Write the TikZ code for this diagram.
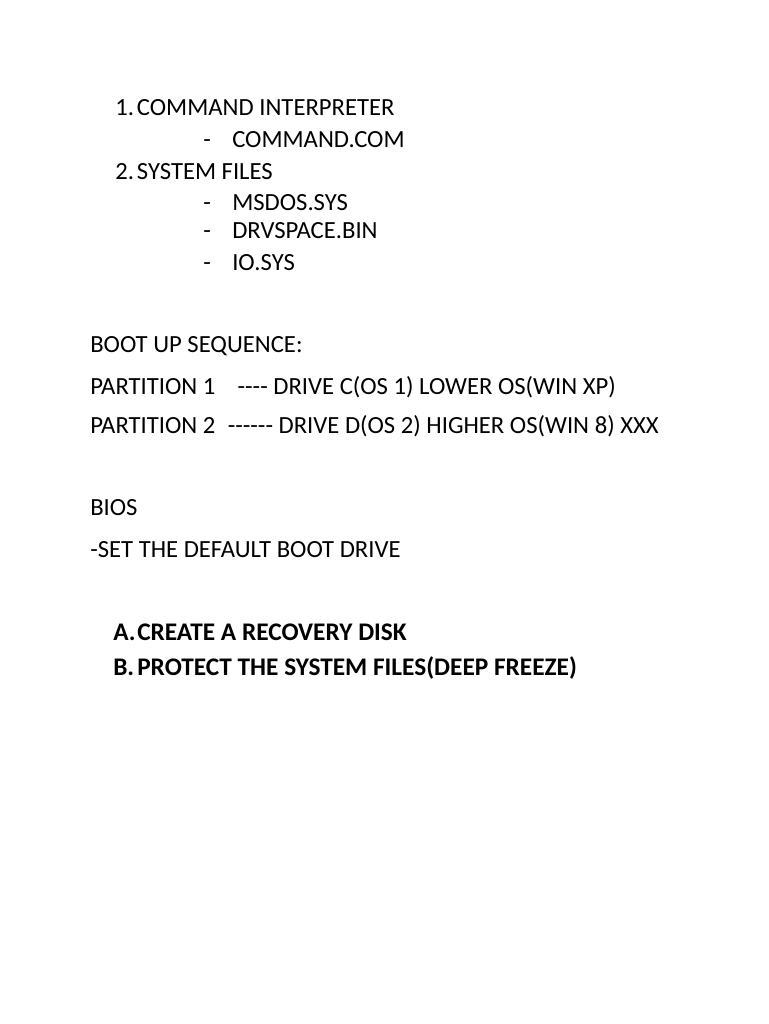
\documentclass[tikz,border=0pt]{standalone}
\usepackage{fontspec}
\setmainfont{Carlito}[Mapping=,Ligatures=ResetAll]
\newcommand{\hy}{\mbox{-}}
\newcommand{\dashes}[1]{\foreach \i in {1,...,#1}{\hy}}
\begin{document}
\begin{tikzpicture}[x=0.75pt,y=-0.75pt,
  t/.style={anchor=base west,inner sep=0pt,font=\fontsize{18.5}{20}\selectfont},
  b/.style={anchor=base west,inner sep=0pt,font=\fontsize{19}{22}\selectfont\bfseries}]
\useasboundingbox[fill=white] (0,0) rectangle (768,1024);
\node[t] (l1) at (115,115) {1.\hspace{0.12em}COMMAND INTERPRETER};
\node[t] (d1) at (203,147) {\hy};
\node[t] (l2) at (232,147) {COMMAND.COM};
\node[t] (l3) at (115,179) {2.\hspace{0.12em}SYSTEM FILES};
\node[t] (d2) at (203,210) {\hy};
\node[t] (l4) at (232,210) {MSDOS.SYS};
\node[t] (d3) at (203,238) {\hy};
\node[t] (l5) at (232,238) {DRVSPACE.BIN};
\node[t] (d4) at (203,270) {\hy};
\node[t] (l6) at (232,270) {IO.SYS};
\node[t] (l7) at (90,352) {BOOT UP SEQUENCE:};
\node[t] (l8) at (90,394) {PARTITION 1\hspace{0.9em}\hy\hy\hy\hy{} DRIVE C(OS 1) LOWER OS(WIN XP)};
\node[t] (l9) at (90,433) {PARTITION 2\hspace{0.5em}\hy\hy\hy\hy\hy\hy{} DRIVE D(OS 2) HIGHER OS(WIN 8) XXX};
\node[t] (l10) at (90,515) {BIOS};
\node[t] (l11) at (90,557) {\hy SET THE DEFAULT BOOT DRIVE};
\node[b] (a) at (113,640) {A.};
\node[b] (at) at (137,640) {CREATE A RECOVERY DISK};
\node[b] (bb) at (113,675) {B.};
\node[b] (bt) at (137,675) {PROTECT THE SYSTEM FILES(DEEP FREEZE)};
\end{tikzpicture}
\end{document}
